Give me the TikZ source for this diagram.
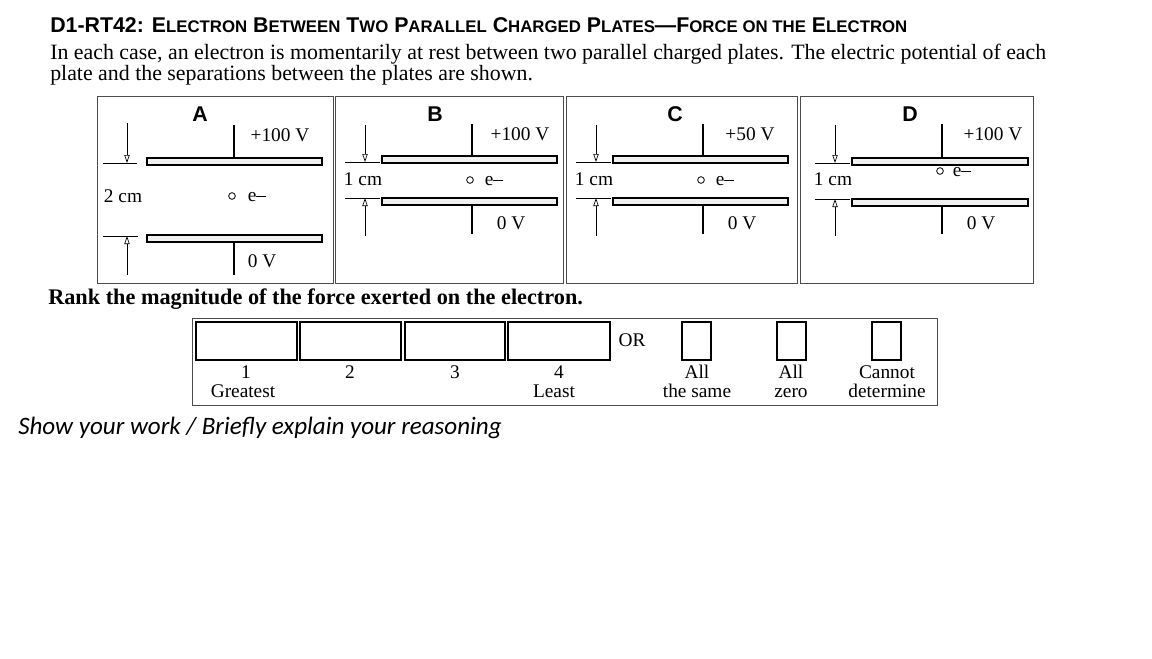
\documentclass[tikz,border=0pt]{standalone}
\usepackage{fontspec}
\usetikzlibrary{arrows.meta}
\setmainfont{Liberation Serif}
\newfontfamily\hsans{Liberation Sans}
\newfontfamily\carl{Carlito}
\newcommand\smc[1]{{\fontsize{12.6}{12}\selectfont #1}}
\begin{document}
\begin{tikzpicture}[x=0.75pt,y=-0.75pt,
  plate/.style={draw,line width=0.9pt,fill=gray!12},
  wire/.style={line width=0.8pt},
  dim/.style={line width=0.5pt,-{Triangle[open,length=6pt,width=4pt]}},
  lab/.style={font=\fontsize{14.5}{14}\selectfont,inner sep=0pt,text height=1.5ex,text depth=0.3ex},
  frame/.style={draw,line width=0.7pt,gray!60!black},
  abox/.style={draw,line width=0.8pt}]
\useasboundingbox (0,0) rectangle (1152,658);
\node[anchor=west,inner sep=0pt,font=\hsans\bfseries\fontsize{16}{16}\selectfont] (title) at (50,25) {D1-RT42: E\smc{LECTRON} B\smc{ETWEEN} T\smc{WO} P\smc{ARALLEL} C\smc{HARGED} P\smc{LATES}\textemdash F\smc{ORCE ON THE} E\smc{LECTRON}};
\node[anchor=west,inner sep=0pt,font=\fontsize{16.4}{16}\selectfont] (l1) at (50,54) {In each case, an electron is momentarily at rest between two parallel charged plates. The electric potential of each};
\node[anchor=west,inner sep=0pt,font=\fontsize{16.4}{16}\selectfont] (l2) at (50,75) {plate and the separations between the plates are shown.};
% panel frames
\draw[frame] (97,96) rectangle (333,283);
\draw[frame] (335,96) rectangle (563,283);
\draw[frame] (566,96) rectangle (797,283);
\draw[frame] (800,96) rectangle (1033,283);
\foreach \n/\x in {A/200,B/435,C/675,D/910}
  \node[font=\hsans\bfseries\fontsize{16}{16}\selectfont,inner sep=0pt] (let\n) at (\x,114) {\n};
% Panel A
\draw[plate] (147,158) rectangle (322,165);
\draw[plate] (147,235) rectangle (322,242);
\draw[wire] (234,158) -- (234,125); \draw[wire] (234,242) -- (234,275);
\node[lab] (vA1) at (280,138) {+100 V}; \node[lab] (vA2) at (262,264) {0 V};
\draw[line width=0.6pt] (232,196) circle (2.5pt); \node[lab] (eA) at (257,198) {e--};
\draw[line width=0.5pt] (103,163) -- (137,163); \draw[line width=0.5pt] (103,236) -- (138,236);
\draw[dim] (127,123) -- (127,163); \draw[dim] (127,275) -- (127,236);
\node[lab] (dA) at (123,199) {2 cm};
% Panel B, C (same geometry)
\foreach \dx in {0,231}{
  \begin{scope}[xshift=\dx*0.75pt]
  \draw[plate] (382,156) rectangle (557,163);
  \draw[plate] (382,198) rectangle (557,205);
  \draw[wire] (472,156) -- (472,124); \draw[wire] (472,205) -- (472,234);
  \draw[line width=0.6pt] (470,180) circle (2.5pt); \node[lab] at (494,182) {e--};
  \draw[line width=0.5pt] (345,162) -- (380,162); \draw[line width=0.5pt] (345,198) -- (380,198);
  \draw[dim] (365,125) -- (365,162); \draw[dim] (365,236) -- (365,198);
  \node[lab] at (363,182) {1 cm};
  \node[lab] at (511,226) {0 V};
  \end{scope}}
\node[lab] (vB1) at (520,137) {+100 V}; \node[lab] (vC1) at (750,137) {+50 V};
% Panel D
\draw[plate] (852,158) rectangle (1028,165);
\draw[plate] (852,199) rectangle (1028,206);
\draw[wire] (942,158) -- (942,124); \draw[wire] (942,206) -- (942,234);
\node[lab] (vD1) at (993,137) {+100 V}; \node[lab] (vD2) at (981,226) {0 V};
\draw[line width=0.6pt] (940,171) circle (2.5pt); \node[lab] (eD) at (962,173) {e--};
\draw[line width=0.5pt] (815,163) -- (850,163); \draw[line width=0.5pt] (815,199) -- (850,199);
\draw[dim] (835,125) -- (835,163); \draw[dim] (835,236) -- (835,199);
\node[lab] (dD) at (833,182) {1 cm};
% ranking
\node[anchor=west,inner sep=0pt,font=\bfseries\fontsize{16.7}{16}\selectfont] (rank) at (48,299) {Rank the magnitude of the force exerted on the electron.};
\draw[frame,line width=0.5pt] (192,318) rectangle (937,405);
\draw[abox] (196,322) rectangle (297,360);
\draw[abox] (300,322) rectangle (401,360);
\draw[abox] (405,322) rectangle (505,360);
\draw[abox] (508,322) rectangle (610,360);
\draw[abox] (682,322) rectangle (711,360);
\draw[abox] (777,322) rectangle (806,360);
\draw[abox] (872,322) rectangle (901,360);
\node[lab] (or) at (632,343) {OR};
\foreach \x/\t in {246/1,350/2,455/3,559/4} \node[lab] at (\x,375) {\t};
\node[lab] (g) at (243,394) {Greatest};
\node[lab] (le) at (554,394) {Least};
\node[lab] (s1) at (697,375) {All}; \node[lab] (s2) at (697,394) {the same};
\node[lab] (z1) at (791,375) {All}; \node[lab] (z2) at (791,394) {zero};
\node[lab] (c1) at (887,375) {Cannot}; \node[lab] (c2) at (887,394) {determine};
\node[anchor=west,inner sep=0pt,font=\carl\itshape\fontsize{18.8}{18}\selectfont] (show) at (18,428) {Show your work / Briefly explain your reasoning};
\end{tikzpicture}
\end{document}
